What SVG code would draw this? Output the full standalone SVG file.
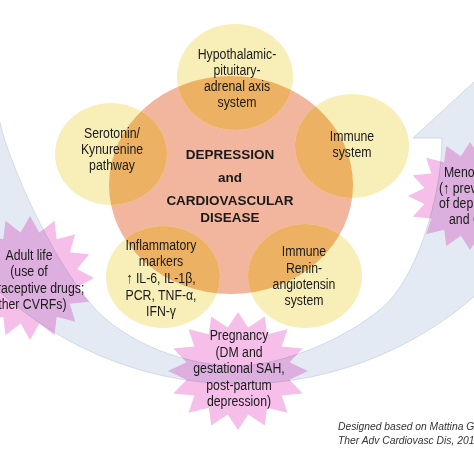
<svg xmlns="http://www.w3.org/2000/svg" xmlns:xlink="http://www.w3.org/1999/xlink" width="474" height="474" viewBox="0 0 474 474">
<style>
.band{fill:#e4eaf3;stroke:#c9d3e1;stroke-width:0.8}
.star{fill:#f6bfe9;mix-blend-mode:multiply}
.core{fill:#f2b59d}
.sat{fill:#f8efb8}
.ov{fill:#ecb163}
.t{font-family:"Liberation Sans",Arial,sans-serif;font-size:15px;fill:#1a1a1a;text-anchor:middle}
.b{font-family:"Liberation Sans",Arial,sans-serif;font-size:13.5px;font-weight:bold;fill:#1a1a1a;text-anchor:middle}
.cap{font-family:"Liberation Sans",Arial,sans-serif;font-size:10.3px;font-style:italic;fill:#333}
</style>
<defs>
<path id="starShape" d="M100,0 L73.56,14.63 L92.39,38.27 L62.36,41.67 L70.71,70.71 L41.67,62.36 L38.27,92.39 L14.63,73.56 L0,100 L-14.63,73.56 L-38.27,92.39 L-41.67,62.36 L-70.71,70.71 L-62.36,41.67 L-92.39,38.27 L-73.56,14.63 L-100,0 L-73.56,-14.63 L-92.39,-38.27 L-62.36,-41.67 L-70.71,-70.71 L-41.67,-62.36 L-38.27,-92.39 L-14.63,-73.56 L0,-100 L14.63,-73.56 L38.27,-92.39 L41.67,-62.36 L70.71,-70.71 L62.36,-41.67 L92.39,-38.27 L73.56,-14.63 Z"/>
<clipPath id="coreClip"><ellipse cx="231" cy="185" rx="122" ry="109"/></clipPath>
</defs>
<rect width="474" height="474" fill="#ffffff"/>

<g id="connectors">
<path class="band" d="M -10,100 L 0,123 C 10,165 50,255 90,303 C 125,345 190,366 237,366 C 280,366 345,340 383,307 C 415,280 442,200 442,138 L 413,138 L 500,58 L 520,220 L 490,282 A 358 358 0 0 1 0,292 L -10,292 Z"/>
</g>

<g id="adult-life">
<use xlink:href="#starShape" href="#starShape" class="star" transform="translate(30 278) scale(0.64 0.62)"/>
<g transform="translate(29 0) scale(0.82 1)">
<text class="t" x="0" y="260">Adult life</text>
<text class="t" x="0" y="276.5">(use of</text>
<text class="t" x="0" y="293">contraceptive drugs;</text>
<text class="t" x="0" y="309.5">other CVRFs)</text>
</g>
</g>

<g id="menopause">
<use xlink:href="#starShape" href="#starShape" class="star" transform="translate(470 196) scale(0.62 0.54)"/>
<g transform="translate(476 0) scale(0.82 1)">
<text class="t" x="0" y="177">Menopause</text>
<text class="t" x="0" y="193">(↑ prevalence</text>
<text class="t" x="0" y="208.5">of depression</text>
<text class="t" x="0" y="224.5">and CVD)</text>
</g>
</g>

<g id="pregnancy">
<use xlink:href="#starShape" href="#starShape" class="star" transform="translate(238 371) scale(0.70 0.59)"/>
<g transform="translate(239 0) scale(0.82 1)">
<text class="t" x="0" y="340.5">Pregnancy</text>
<text class="t" x="0" y="357">(DM and</text>
<text class="t" x="0" y="373.5">gestational SAH,</text>
<text class="t" x="0" y="390">post-partum</text>
<text class="t" x="0" y="406">depression)</text>
</g>
</g>

<g id="core">
<ellipse class="core" cx="231" cy="185" rx="122" ry="109"/>
</g>

<g id="hpa">
<ellipse class="sat" cx="235" cy="77" rx="58" ry="53"/>
<ellipse class="ov" cx="235" cy="77" rx="58" ry="53" clip-path="url(#coreClip)"/>
<g transform="translate(237 0) scale(0.82 1)">
<text class="t" x="0" y="59">Hypothalamic-</text>
<text class="t" x="0" y="75">pituitary-</text>
<text class="t" x="0" y="91">adrenal axis</text>
<text class="t" x="0" y="107">system</text>
</g>
</g>

<g id="serotonin">
<ellipse class="sat" cx="111" cy="154" rx="56" ry="51"/>
<ellipse class="ov" cx="111" cy="154" rx="56" ry="51" clip-path="url(#coreClip)"/>
<g transform="translate(112 0) scale(0.82 1)">
<text class="t" x="0" y="138">Serotonin/</text>
<text class="t" x="0" y="154">Kynurenine</text>
<text class="t" x="0" y="170">pathway</text>
</g>
</g>

<g id="immune">
<ellipse class="sat" cx="352" cy="146" rx="57" ry="52"/>
<ellipse class="ov" cx="352" cy="146" rx="57" ry="52" clip-path="url(#coreClip)"/>
<g transform="translate(352 0) scale(0.82 1)">
<text class="t" x="0" y="141">Immune</text>
<text class="t" x="0" y="157">system</text>
</g>
</g>

<g id="inflammatory">
<ellipse class="sat" cx="163" cy="277" rx="57" ry="51"/>
<ellipse class="ov" cx="163" cy="277" rx="57" ry="51" clip-path="url(#coreClip)"/>
<g transform="translate(161 0) scale(0.82 1)">
<text class="t" x="0" y="250">Inflammatory</text>
<text class="t" x="0" y="266.5">markers</text>
<text class="t" x="0" y="283">↑ IL-6, IL-1β,</text>
<text class="t" x="0" y="300">PCR, TNF-α,</text>
<text class="t" x="0" y="316.5">IFN-γ</text>
</g>
</g>

<g id="renin">
<ellipse class="sat" cx="305" cy="276" rx="57" ry="52"/>
<ellipse class="ov" cx="305" cy="276" rx="57" ry="52" clip-path="url(#coreClip)"/>
<g transform="translate(304 0) scale(0.82 1)">
<text class="t" x="0" y="256.5">Immune</text>
<text class="t" x="0" y="273">Renin-</text>
<text class="t" x="0" y="289">angiotensin</text>
<text class="t" x="0" y="305">system</text>
</g>
</g>

<g id="core-label">
<text class="b" x="230" y="158.5">DEPRESSION</text>
<text class="b" x="230" y="182">and</text>
<text class="b" x="230" y="205">CARDIOVASCULAR</text>
<text class="b" x="230" y="222">DISEASE</text>
</g>

<g id="caption">
<text class="cap" x="338" y="430">Designed based on Mattina GF et al.</text>
<text class="cap" x="338" y="443.5">Ther Adv Cardiovasc Dis, 2019</text>
</g>
</svg>
